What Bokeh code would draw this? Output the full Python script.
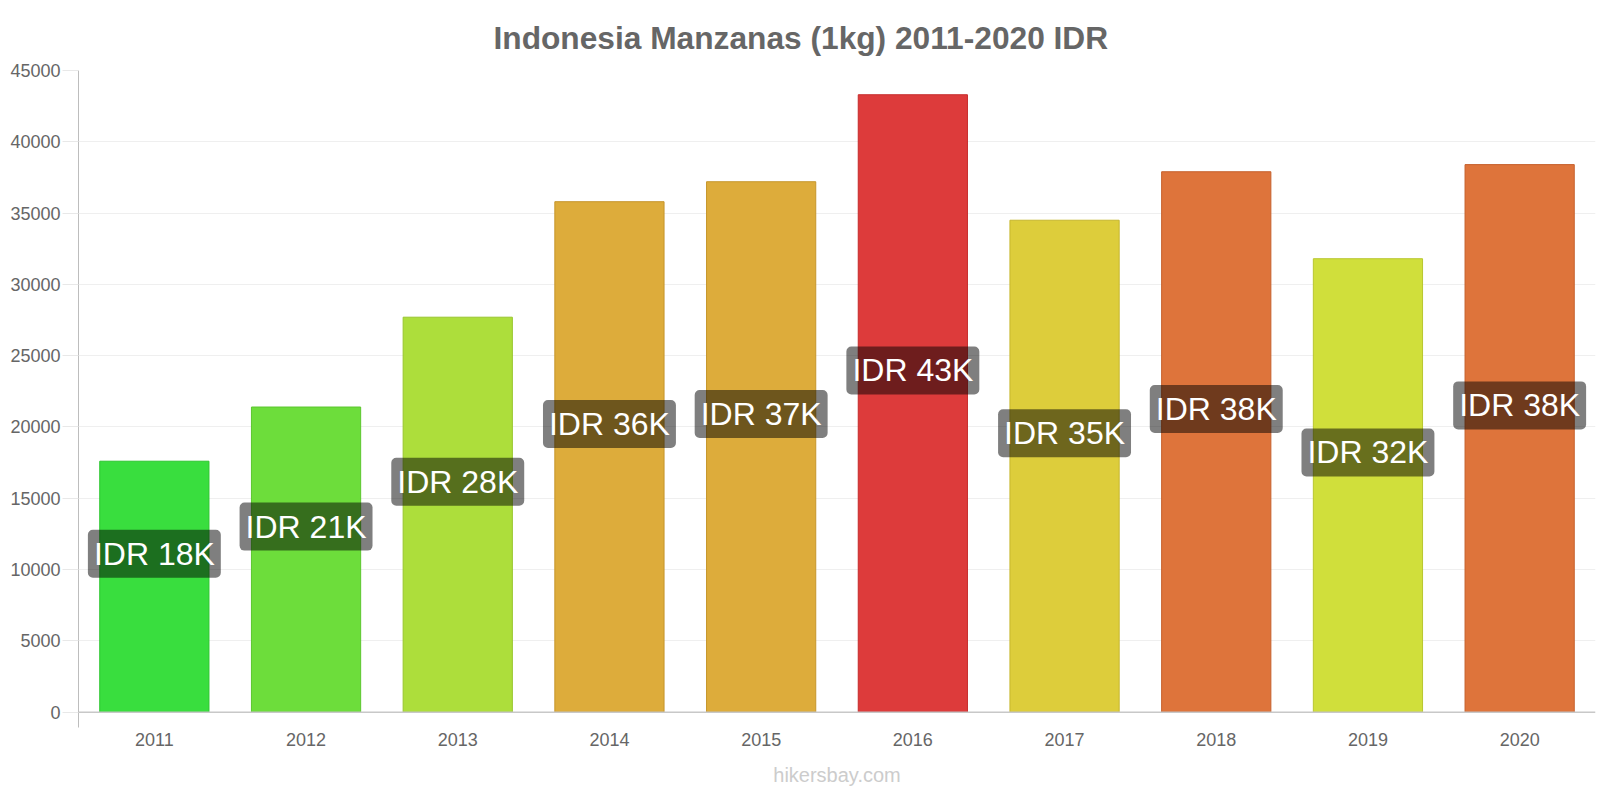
from bokeh.plotting import figure
from bokeh.models import ColumnDataSource, FixedTicker, Span, Title, Range1d, FactorRange
from bokeh.core.properties import value
from bokeh.embed import file_html
from bokeh.resources import INLINE

years = ["2011", "2012", "2013", "2014", "2015", "2016", "2017", "2018", "2019", "2020"]
prices = [17600, 21400, 27700, 35800, 37200, 43300, 34500, 37900, 31800, 38400]
labels = ["IDR 18K", "IDR 21K", "IDR 28K", "IDR 36K", "IDR 37K", "IDR 43K", "IDR 35K", "IDR 38K", "IDR 32K", "IDR 38K"]
fill_colors = ["#33dd38", "#68dc35", "#aadd35", "#dca935", "#dca935", "#dc3535", "#dccb35", "#dd6f35", "#cede35", "#dd6f35"]
line_colors = ["#2cc630", "#5cc62e", "#98c62e", "#c6962c", "#c6962c", "#c62c2c", "#c6b62c", "#c6602c", "#b8c62e", "#c6602c"]
y_ticks = [0, 5000, 10000, 15000, 20000, 25000, 30000, 35000, 40000, 45000]
title_text = "Indonesia Manzanas (1kg) 2011-2020 IDR"
watermark = "hikersbay.com"

src = ColumnDataSource(dict(
    year=years, price=prices, half=[v / 2 for v in prices], label=labels,
    fill=fill_colors, line=line_colors,
))

p = figure(width=1600, height=800, x_range=FactorRange(*years, range_padding=0),
           y_range=Range1d(-1074, 45000), output_backend="svg", toolbar_location=None,
           min_border_left=78, min_border_right=5, min_border_top=70, min_border_bottom=73)
p.outline_line_color = None
p.background_fill_color = "white"
p.border_fill_color = "white"

p.vbar(x="year", top="price", bottom=0, width=0.72, source=src,
       fill_color="fill", fill_alpha=0.97, line_color="line", line_width=1)

p.add_layout(Span(location=0, dimension="width", line_color="#c8c8c8", line_width=1.5))

p.text(x="year", y="half", text="label", source=src,
       text_color="white", text_font=value("Liberation Sans"), text_font_size="32px",
       text_align="center", text_baseline="middle", y_offset=-33,
       background_fill_color="black", background_fill_alpha=0.5,
       border_radius=5, padding=6)

# y axis
p.yaxis.ticker = FixedTicker(ticks=y_ticks)
p.yaxis.axis_line_color = "#bdbdbd"
p.yaxis.major_tick_out = 16
p.yaxis.major_tick_in = 0
p.yaxis.minor_tick_line_color = None
p.yaxis.major_tick_line_color = "#e8e8e8"
p.yaxis.major_label_text_font = "Liberation Sans"
p.yaxis.major_label_text_font_size = "18px"
p.yaxis.major_label_text_color = "#666666"
p.yaxis.major_label_standoff = 2
p.yaxis.formatter.use_scientific = False

# x axis
p.xaxis.axis_line_color = None
p.xaxis.major_tick_line_color = None
p.xaxis.minor_tick_line_color = None
p.xaxis.major_tick_out = 0
p.xaxis.major_tick_in = 0
p.xaxis.major_label_text_font = "Liberation Sans"
p.xaxis.major_label_text_font_size = "18px"
p.xaxis.major_label_text_color = "#666666"
p.xaxis.major_label_standoff = 5

p.xgrid.grid_line_color = None
p.ygrid.ticker = FixedTicker(ticks=y_ticks[1:])
p.ygrid.grid_line_color = "#efefef"

p.title = Title(text=title_text, align="left", offset=415,
                text_font="Liberation Sans", text_font_style="bold", text_font_size="31.7px",
                text_color="#666666", standoff=30)
p.add_layout(Title(text=watermark, align="center",
                   text_font="Liberation Sans", text_font_style="normal", text_font_size="20px",
                   text_color="#cccccc", standoff=27), "below")

open("out.html", "w").write(file_html(p, INLINE))
